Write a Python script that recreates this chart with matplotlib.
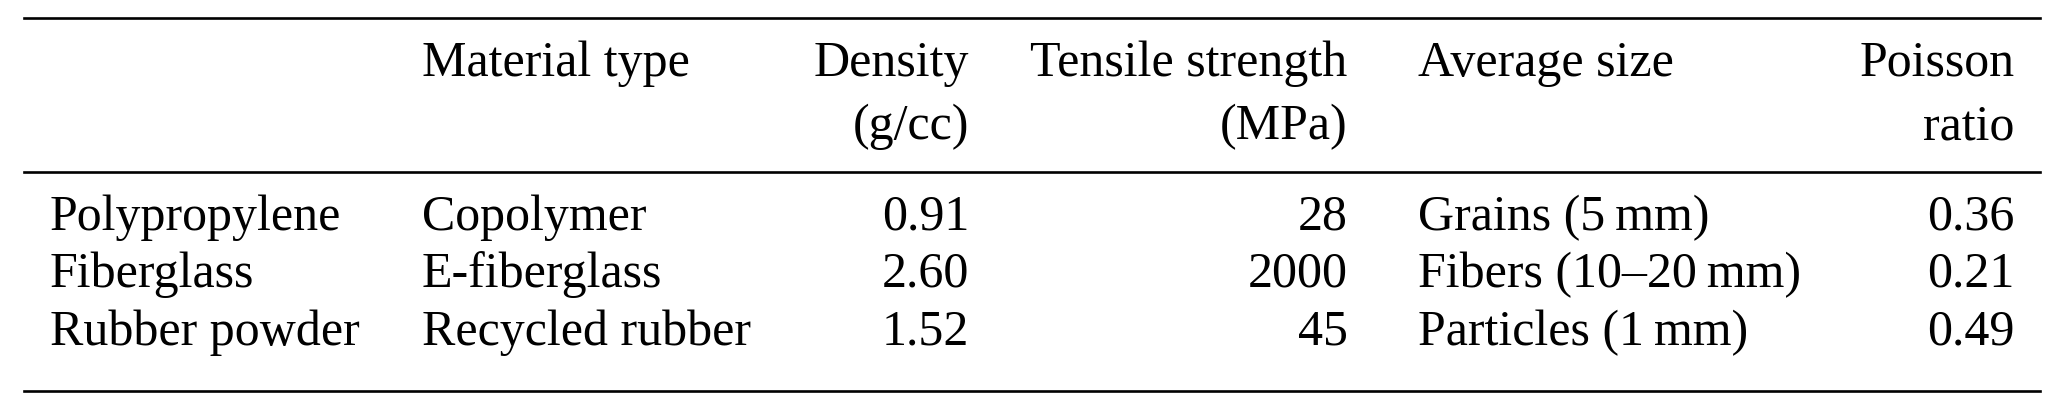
import matplotlib.pyplot as plt

plt.rcParams['font.family'] = ['Liberation Serif', 'DejaVu Serif']

header1 = ["", "Material type", "Density", "Tensile strength", "Average size", "Poisson"]
header2 = ["", "", "(g/cc)", "(MPa)", "", "ratio"]
materials = ["Polypropylene", "Fiberglass", "Rubber powder"]
types = ["Copolymer", "E-fiberglass", "Recycled rubber"]
density = ["0.91", "2.60", "1.52"]
tensile = ["28", "2000", "45"]
sizes = ["Grains (5\u2009mm)", "Fibers (10\u201320\u2009mm)", "Particles (1\u2009mm)"]
poisson = ["0.36", "0.21", "0.49"]

col_x = [0.0242, 0.204, 0.469, 0.652, 0.686, 0.9745]
col_ha = ["left", "left", "right", "right", "left", "right"]
head_y = [0.155, 0.31]
row_y = [0.532, 0.671, 0.813]
fs = 36

fig = plt.figure(figsize=(20.67, 4.09), dpi=100)
ax = fig.add_axes([0, 0, 1, 1])
ax.set_xlim(0, 1)
ax.set_ylim(1, 0)
ax.axis('off')

for y in [0.045, 0.42, 0.955]:
    ax.plot([0.0115, 0.987], [y, y], color='black', lw=1.9)

for hdr, y in zip([header1, header2], head_y):
    for txt, x, ha in zip(hdr, col_x, col_ha):
        ax.text(x, y, txt, ha=ha, va='center', fontsize=fs)

for i, y in enumerate(row_y):
    vals = [materials[i], types[i], density[i], tensile[i], sizes[i], poisson[i]]
    for txt, x, ha in zip(vals, col_x, col_ha):
        ax.text(x, y, txt, ha=ha, va='center', fontsize=fs)

fig.savefig("out.png", dpi=100)
